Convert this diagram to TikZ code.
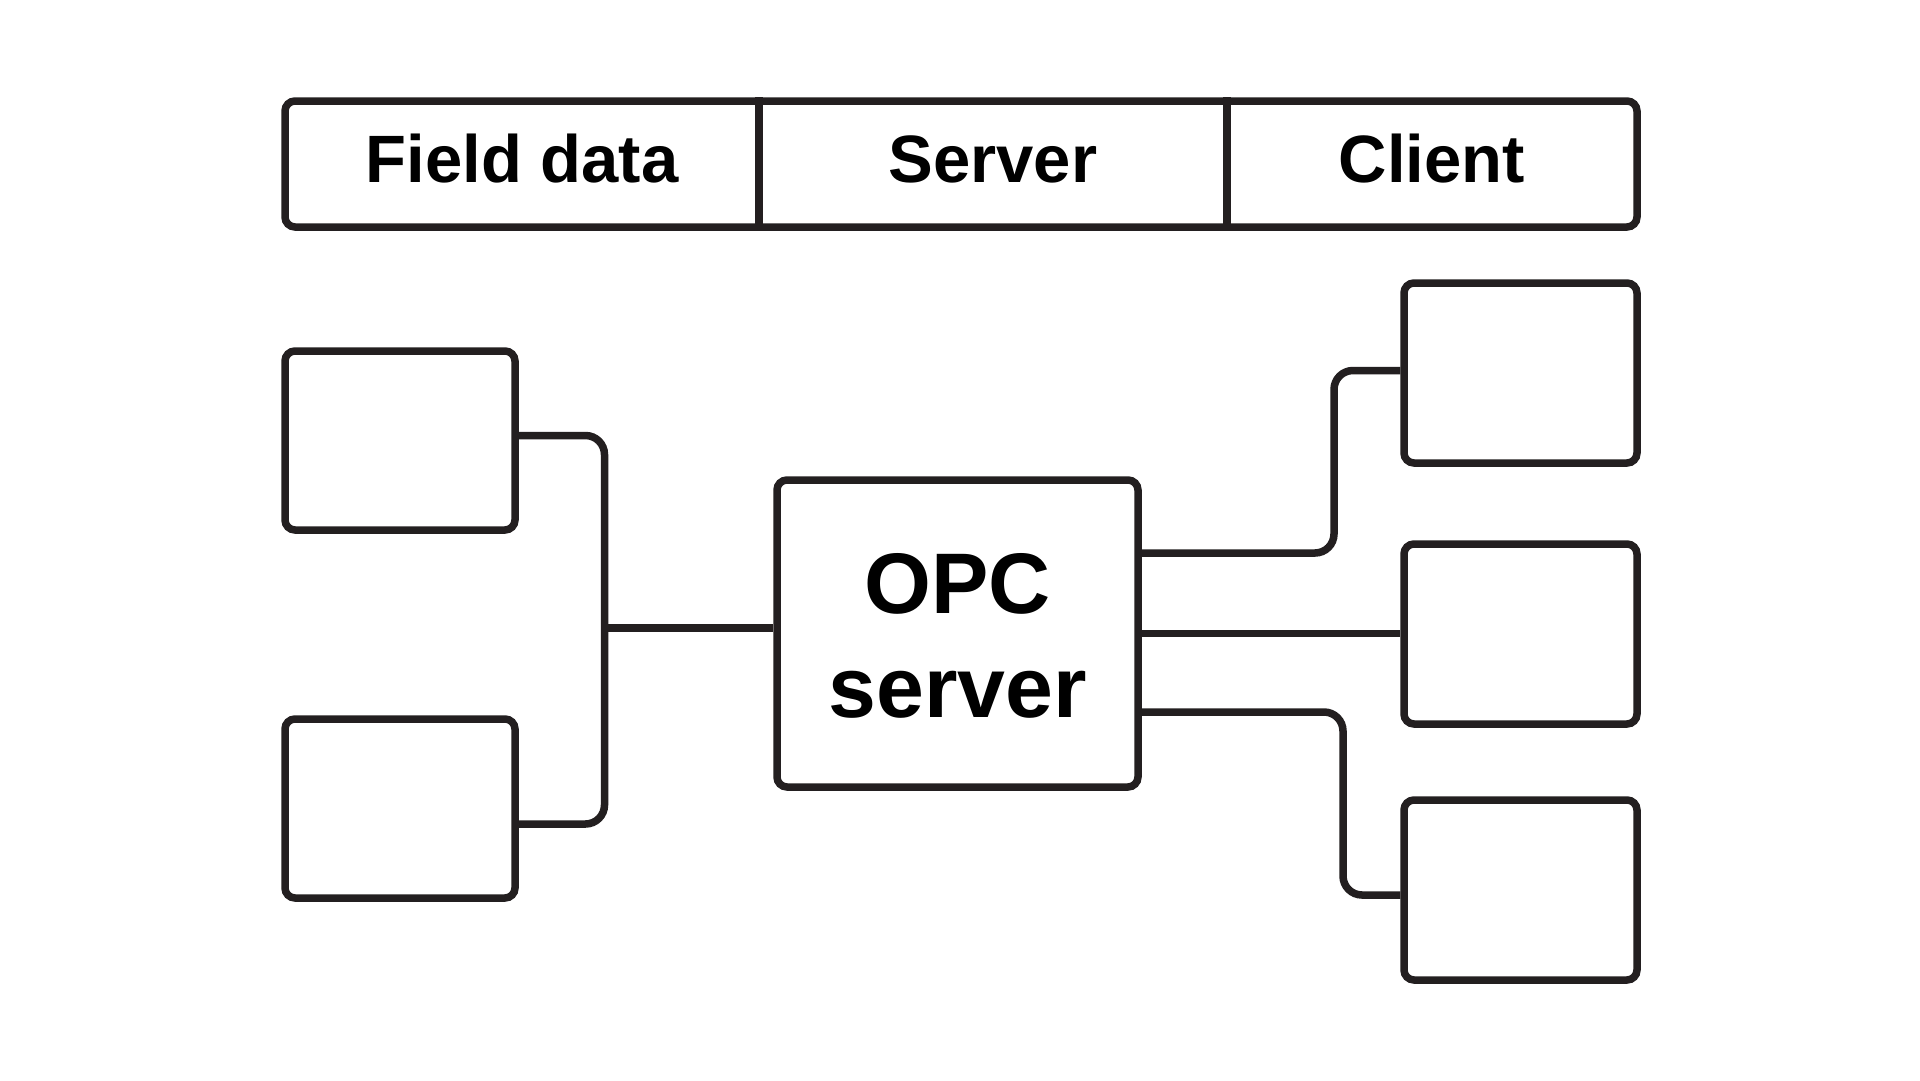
\documentclass[tikz,border=0pt]{standalone}
\usepackage{fontspec}
\setmainfont{Liberation Sans}
\definecolor{ink}{HTML}{231F20}
\begin{document}
\begin{tikzpicture}[x=1pt,y=-1pt,
  box/.style={draw=ink,line width=7.5pt,rounded corners=10pt,minimum width=#1,minimum height=180pt,inner sep=0pt},
  conn/.style={draw=ink,line width=7.5pt,rounded corners=19pt},
  hlabel/.style={anchor=base,inner sep=0pt,font=\fontsize{67}{80}\selectfont\bfseries,text=black}]
\useasboundingbox[fill=white] (0,0) rectangle (1920,1080);
% header
\node[draw=ink,line width=7.5pt,rounded corners=10pt,minimum width=1352pt,minimum height=126pt,inner sep=0pt] (hdr) at (961,164) {};
\coordinate (d1) at (759,164);
\coordinate (d2) at (1227,164);
\draw[draw=ink,line width=7.5pt] (d1 |- hdr.north) -- (d1 |- hdr.south);
\draw[draw=ink,line width=7.5pt] (d2 |- hdr.north) -- (d2 |- hdr.south);
\node[hlabel] (l1) at (522,182) {Field data};
\node[hlabel] (l2) at (993,182) {Server};
\node[hlabel] (l3) at (1432,182) {Client};
% boxes
\node[box=230pt,minimum height=179pt] (f1) at (400,440.5) {};
\node[box=230pt,minimum height=179pt] (f2) at (400,808.5) {};
\node[draw=ink,line width=7.5pt,rounded corners=10pt,minimum width=361pt,minimum height=307pt,inner sep=0pt] (opc) at (957.5,633.5) {};
\node[inner sep=0pt,align=center,font=\fontsize{86}{104}\selectfont\bfseries,text=black] (opct) at ([yshift=-2pt]opc.center) {OPC\\server};
\node[box=233pt] (c1) at (1520.5,373) {};
\node[box=233pt] (c2) at (1520.5,634) {};
\node[box=233pt] (c3) at (1520.5,890) {};
% connectors
\coordinate (busx) at (604.5,628);
\draw[conn] ([yshift=5pt]f1.east) -| (busx) |- ([yshift=-15.5pt]f2.east);
\draw[conn] (busx) -- (busx -| opc.west);
\coordinate (r1) at (1334,460);
\coordinate (r3) at (1343,800);
\draw[conn] ([yshift=80.5pt]opc.east) -| (r1) |- ([yshift=2.5pt]c1.west);
\draw[conn] (opc.east) -- (opc.east -| c2.west);
\draw[conn] ([yshift=-78.5pt]opc.east) -| (r3) |- ([yshift=-5pt]c3.west);
\end{tikzpicture}
\end{document}
